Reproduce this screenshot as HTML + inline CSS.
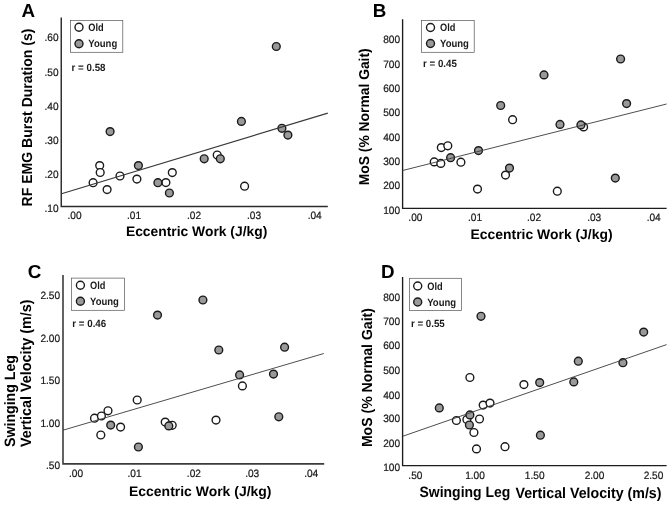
<!DOCTYPE html>
<html lang="en"><head><meta charset="utf-8"><title>Figure</title>
<style>html,body{margin:0;padding:0;background:#fff;overflow:hidden}svg{display:block}text{font-family:'Liberation Sans', sans-serif;text-rendering:geometricPrecision}</style></head><body>
<svg width="670" height="505" viewBox="0 0 670 505">
<rect x="0" y="0" width="670" height="505" fill="#fff"/>
<g>
<text x="21.6" y="16.8" font-size="18.8" font-weight="bold" fill="#000">A</text>
<path d="M61.25 17.6 V206.5 H327.8" fill="none" stroke="#2c2c2c" stroke-width="1.45"/>
<rect x="70.5" y="20.4" width="52.3" height="31.9" fill="#fff" stroke="#555" stroke-width="0.7"/>
<circle cx="79.0" cy="27.2" r="4.0" fill="#fff" stroke="#1a1a1a" stroke-width="1.4"/>
<circle cx="79.0" cy="43.7" r="4.0" fill="#999" stroke="#1a1a1a" stroke-width="1.4"/>
<text x="88.3" y="30.7" font-size="10.6" font-weight="bold" textLength="15.4" lengthAdjust="spacingAndGlyphs" fill="#1a1a1a">Old</text>
<text x="88.3" y="47.2" font-size="10.6" font-weight="bold" textLength="28.9" lengthAdjust="spacingAndGlyphs" fill="#1a1a1a">Young</text>
<text x="71.6" y="71.2" font-size="10.4" font-weight="bold" textLength="33.9" lengthAdjust="spacingAndGlyphs" fill="#1a1a1a">r = 0.58</text>
<text x="58.6" y="41.35" font-size="10.6" text-anchor="end" textLength="14.07" lengthAdjust="spacingAndGlyphs" fill="#161616" stroke="#161616" stroke-width="0.2">.60</text>
<text x="58.6" y="75.75" font-size="10.6" text-anchor="end" textLength="14.07" lengthAdjust="spacingAndGlyphs" fill="#161616" stroke="#161616" stroke-width="0.2">.50</text>
<text x="58.6" y="110.35" font-size="10.6" text-anchor="end" textLength="14.07" lengthAdjust="spacingAndGlyphs" fill="#161616" stroke="#161616" stroke-width="0.2">.40</text>
<text x="58.6" y="144.15" font-size="10.6" text-anchor="end" textLength="14.07" lengthAdjust="spacingAndGlyphs" fill="#161616" stroke="#161616" stroke-width="0.2">.30</text>
<text x="58.6" y="178.15" font-size="10.6" text-anchor="end" textLength="14.07" lengthAdjust="spacingAndGlyphs" fill="#161616" stroke="#161616" stroke-width="0.2">.20</text>
<text x="58.6" y="212.45" font-size="10.6" text-anchor="end" textLength="14.07" lengthAdjust="spacingAndGlyphs" fill="#161616" stroke="#161616" stroke-width="0.2">.10</text>
<text x="74.6" y="219.35" font-size="10.6" text-anchor="middle" textLength="14.07" lengthAdjust="spacingAndGlyphs" fill="#161616" stroke="#161616" stroke-width="0.2">.00</text>
<text x="134" y="219.35" font-size="10.6" text-anchor="middle" textLength="14.07" lengthAdjust="spacingAndGlyphs" fill="#161616" stroke="#161616" stroke-width="0.2">.01</text>
<text x="194.1" y="219.35" font-size="10.6" text-anchor="middle" textLength="14.07" lengthAdjust="spacingAndGlyphs" fill="#161616" stroke="#161616" stroke-width="0.2">.02</text>
<text x="254.1" y="219.35" font-size="10.6" text-anchor="middle" textLength="14.07" lengthAdjust="spacingAndGlyphs" fill="#161616" stroke="#161616" stroke-width="0.2">.03</text>
<text x="314.7" y="219.35" font-size="10.6" text-anchor="middle" textLength="14.07" lengthAdjust="spacingAndGlyphs" fill="#161616" stroke="#161616" stroke-width="0.2">.04</text>
<circle cx="93.1" cy="182.7" r="3.9" fill="#fff" stroke="#1a1a1a" stroke-width="1.4"/>
<circle cx="99.7" cy="165.6" r="3.9" fill="#fff" stroke="#1a1a1a" stroke-width="1.4"/>
<circle cx="100.2" cy="172.5" r="3.9" fill="#fff" stroke="#1a1a1a" stroke-width="1.4"/>
<circle cx="107.1" cy="189.6" r="3.9" fill="#fff" stroke="#1a1a1a" stroke-width="1.4"/>
<circle cx="120.0" cy="176.0" r="3.9" fill="#fff" stroke="#1a1a1a" stroke-width="1.4"/>
<circle cx="136.9" cy="179.1" r="3.9" fill="#fff" stroke="#1a1a1a" stroke-width="1.4"/>
<circle cx="165.9" cy="182.6" r="3.9" fill="#fff" stroke="#1a1a1a" stroke-width="1.4"/>
<circle cx="172.3" cy="172.6" r="3.9" fill="#fff" stroke="#1a1a1a" stroke-width="1.4"/>
<circle cx="217.2" cy="155.0" r="3.9" fill="#fff" stroke="#1a1a1a" stroke-width="1.4"/>
<circle cx="244.6" cy="186.2" r="3.9" fill="#fff" stroke="#1a1a1a" stroke-width="1.4"/>
<circle cx="110.1" cy="131.6" r="3.9" fill="#999" stroke="#1a1a1a" stroke-width="1.4"/>
<circle cx="138.4" cy="165.6" r="3.9" fill="#999" stroke="#1a1a1a" stroke-width="1.4"/>
<circle cx="157.9" cy="182.7" r="3.9" fill="#999" stroke="#1a1a1a" stroke-width="1.4"/>
<circle cx="169.4" cy="193.0" r="3.9" fill="#999" stroke="#1a1a1a" stroke-width="1.4"/>
<circle cx="204.2" cy="158.8" r="3.9" fill="#999" stroke="#1a1a1a" stroke-width="1.4"/>
<circle cx="220.3" cy="158.8" r="3.9" fill="#999" stroke="#1a1a1a" stroke-width="1.4"/>
<circle cx="241.4" cy="121.4" r="3.9" fill="#999" stroke="#1a1a1a" stroke-width="1.4"/>
<circle cx="276.3" cy="46.5" r="3.9" fill="#999" stroke="#1a1a1a" stroke-width="1.4"/>
<circle cx="281.9" cy="128.3" r="3.9" fill="#999" stroke="#1a1a1a" stroke-width="1.4"/>
<circle cx="287.9" cy="135.1" r="3.9" fill="#999" stroke="#1a1a1a" stroke-width="1.4"/>
<line x1="61.5" y1="193.8" x2="327.8" y2="113.1" stroke="#3a3a3a" stroke-width="1.2"/>
<text x="125.9" y="236.4" font-size="13.8" font-weight="bold" textLength="141.4" lengthAdjust="spacingAndGlyphs" fill="#000">Eccentric Work (J/kg)</text>
<text transform="translate(31.6,206.4) rotate(-90)" font-size="14.6" font-weight="bold" textLength="177.8" lengthAdjust="spacingAndGlyphs" fill="#000">RF EMG Burst Duration (s)</text>
</g>
<g>
<text x="372.7" y="16.5" font-size="18.8" font-weight="bold" fill="#000">B</text>
<path d="M402.6 19.3 V208.4 H666.6" fill="none" stroke="#1c1c1c" stroke-width="1.35"/>
<rect x="421.4" y="20.6" width="52.8" height="31.7" fill="#fff" stroke="#555" stroke-width="0.7"/>
<circle cx="430.5" cy="27.5" r="4.0" fill="#fff" stroke="#1a1a1a" stroke-width="1.4"/>
<circle cx="430.5" cy="43.5" r="4.0" fill="#999" stroke="#1a1a1a" stroke-width="1.4"/>
<text x="440" y="31.0" font-size="10.6" font-weight="bold" textLength="15.4" lengthAdjust="spacingAndGlyphs" fill="#1a1a1a">Old</text>
<text x="440" y="47.0" font-size="10.6" font-weight="bold" textLength="28.9" lengthAdjust="spacingAndGlyphs" fill="#1a1a1a">Young</text>
<text x="423" y="67" font-size="10.4" font-weight="bold" textLength="33.9" lengthAdjust="spacingAndGlyphs" fill="#1a1a1a">r = 0.45</text>
<text x="400.1" y="43.15" font-size="10.6" text-anchor="end" textLength="16.89" lengthAdjust="spacingAndGlyphs" fill="#161616" stroke="#161616" stroke-width="0.2">800</text>
<text x="400.1" y="67.75" font-size="10.6" text-anchor="end" textLength="16.89" lengthAdjust="spacingAndGlyphs" fill="#161616" stroke="#161616" stroke-width="0.2">700</text>
<text x="400.1" y="91.95" font-size="10.6" text-anchor="end" textLength="16.89" lengthAdjust="spacingAndGlyphs" fill="#161616" stroke="#161616" stroke-width="0.2">600</text>
<text x="400.1" y="116.35" font-size="10.6" text-anchor="end" textLength="16.89" lengthAdjust="spacingAndGlyphs" fill="#161616" stroke="#161616" stroke-width="0.2">500</text>
<text x="400.1" y="141.35" font-size="10.6" text-anchor="end" textLength="16.89" lengthAdjust="spacingAndGlyphs" fill="#161616" stroke="#161616" stroke-width="0.2">400</text>
<text x="400.1" y="165.15" font-size="10.6" text-anchor="end" textLength="16.89" lengthAdjust="spacingAndGlyphs" fill="#161616" stroke="#161616" stroke-width="0.2">300</text>
<text x="400.1" y="189.15" font-size="10.6" text-anchor="end" textLength="16.89" lengthAdjust="spacingAndGlyphs" fill="#161616" stroke="#161616" stroke-width="0.2">200</text>
<text x="400.1" y="213.65" font-size="10.6" text-anchor="end" textLength="16.89" lengthAdjust="spacingAndGlyphs" fill="#161616" stroke="#161616" stroke-width="0.2">100</text>
<text x="415.4" y="220.75" font-size="10.6" text-anchor="middle" textLength="14.07" lengthAdjust="spacingAndGlyphs" fill="#161616" stroke="#161616" stroke-width="0.2">.00</text>
<text x="475" y="220.75" font-size="10.6" text-anchor="middle" textLength="14.07" lengthAdjust="spacingAndGlyphs" fill="#161616" stroke="#161616" stroke-width="0.2">.01</text>
<text x="534.0" y="220.75" font-size="10.6" text-anchor="middle" textLength="14.07" lengthAdjust="spacingAndGlyphs" fill="#161616" stroke="#161616" stroke-width="0.2">.02</text>
<text x="594.2" y="220.75" font-size="10.6" text-anchor="middle" textLength="14.07" lengthAdjust="spacingAndGlyphs" fill="#161616" stroke="#161616" stroke-width="0.2">.03</text>
<text x="653.7" y="220.75" font-size="10.6" text-anchor="middle" textLength="14.07" lengthAdjust="spacingAndGlyphs" fill="#161616" stroke="#161616" stroke-width="0.2">.04</text>
<circle cx="434.2" cy="161.9" r="3.9" fill="#fff" stroke="#1a1a1a" stroke-width="1.4"/>
<circle cx="440.8" cy="163.4" r="3.9" fill="#fff" stroke="#1a1a1a" stroke-width="1.4"/>
<circle cx="441.3" cy="147.6" r="3.9" fill="#fff" stroke="#1a1a1a" stroke-width="1.4"/>
<circle cx="447.8" cy="145.8" r="3.9" fill="#fff" stroke="#1a1a1a" stroke-width="1.4"/>
<circle cx="460.9" cy="162.2" r="3.9" fill="#fff" stroke="#1a1a1a" stroke-width="1.4"/>
<circle cx="477.5" cy="189.1" r="3.9" fill="#fff" stroke="#1a1a1a" stroke-width="1.4"/>
<circle cx="505.5" cy="175.1" r="3.9" fill="#fff" stroke="#1a1a1a" stroke-width="1.4"/>
<circle cx="512.6" cy="119.7" r="3.9" fill="#fff" stroke="#1a1a1a" stroke-width="1.4"/>
<circle cx="583.6" cy="126.9" r="3.9" fill="#fff" stroke="#1a1a1a" stroke-width="1.4"/>
<circle cx="557.3" cy="191.2" r="3.9" fill="#fff" stroke="#1a1a1a" stroke-width="1.4"/>
<circle cx="450.6" cy="157.7" r="3.9" fill="#999" stroke="#1a1a1a" stroke-width="1.4"/>
<circle cx="478.5" cy="150.6" r="3.9" fill="#999" stroke="#1a1a1a" stroke-width="1.4"/>
<circle cx="500.7" cy="105.5" r="3.9" fill="#999" stroke="#1a1a1a" stroke-width="1.4"/>
<circle cx="509.5" cy="168.1" r="3.9" fill="#999" stroke="#1a1a1a" stroke-width="1.4"/>
<circle cx="544.0" cy="74.9" r="3.9" fill="#999" stroke="#1a1a1a" stroke-width="1.4"/>
<circle cx="560.0" cy="124.4" r="3.9" fill="#999" stroke="#1a1a1a" stroke-width="1.4"/>
<circle cx="580.9" cy="124.9" r="3.9" fill="#999" stroke="#1a1a1a" stroke-width="1.4"/>
<circle cx="620.6" cy="59.0" r="3.9" fill="#999" stroke="#1a1a1a" stroke-width="1.4"/>
<circle cx="626.6" cy="103.6" r="3.9" fill="#999" stroke="#1a1a1a" stroke-width="1.4"/>
<circle cx="615.3" cy="178.1" r="3.9" fill="#999" stroke="#1a1a1a" stroke-width="1.4"/>
<line x1="402.6" y1="170.5" x2="666.6" y2="104.0" stroke="#3a3a3a" stroke-width="0.9"/>
<text x="470.6" y="239" font-size="13.9" font-weight="bold" textLength="142" lengthAdjust="spacingAndGlyphs" fill="#000">Eccentric Work (J/kg)</text>
<text transform="translate(369,185.3) rotate(-90)" font-size="14.3" font-weight="bold" textLength="137" lengthAdjust="spacingAndGlyphs" fill="#000">MoS (% Normal Gait)</text>
</g>
<g>
<text x="27.8" y="277.9" font-size="18.8" font-weight="bold" fill="#000">C</text>
<path d="M63.0 275.1 V463.9 H324.2" fill="none" stroke="#3c3c3c" stroke-width="1.6"/>
<rect x="71.4" y="278.1" width="53.0" height="32.2" fill="#fff" stroke="#555" stroke-width="0.7"/>
<circle cx="80.4" cy="285.2" r="4.0" fill="#fff" stroke="#1a1a1a" stroke-width="1.4"/>
<circle cx="80.4" cy="301.2" r="4.0" fill="#999" stroke="#1a1a1a" stroke-width="1.4"/>
<text x="90" y="288.7" font-size="10.6" font-weight="bold" textLength="15.4" lengthAdjust="spacingAndGlyphs" fill="#1a1a1a">Old</text>
<text x="90" y="304.7" font-size="10.6" font-weight="bold" textLength="28.9" lengthAdjust="spacingAndGlyphs" fill="#1a1a1a">Young</text>
<text x="72.3" y="326.6" font-size="10.4" font-weight="bold" textLength="33.9" lengthAdjust="spacingAndGlyphs" fill="#1a1a1a">r = 0.46</text>
<text x="60.1" y="298.95" font-size="10.6" text-anchor="end" textLength="19.7" lengthAdjust="spacingAndGlyphs" fill="#161616" stroke="#161616" stroke-width="0.2">2.50</text>
<text x="60.1" y="341.95" font-size="10.6" text-anchor="end" textLength="19.7" lengthAdjust="spacingAndGlyphs" fill="#161616" stroke="#161616" stroke-width="0.2">2.00</text>
<text x="60.1" y="384.45" font-size="10.6" text-anchor="end" textLength="19.7" lengthAdjust="spacingAndGlyphs" fill="#161616" stroke="#161616" stroke-width="0.2">1.50</text>
<text x="60.1" y="426.95" font-size="10.6" text-anchor="end" textLength="19.7" lengthAdjust="spacingAndGlyphs" fill="#161616" stroke="#161616" stroke-width="0.2">1.00</text>
<text x="60.1" y="469.35" font-size="10.6" text-anchor="end" textLength="14.07" lengthAdjust="spacingAndGlyphs" fill="#161616" stroke="#161616" stroke-width="0.2">.50</text>
<text x="76.1" y="477.25" font-size="10.6" text-anchor="middle" textLength="14.07" lengthAdjust="spacingAndGlyphs" fill="#161616" stroke="#161616" stroke-width="0.2">.00</text>
<text x="134.6" y="477.25" font-size="10.6" text-anchor="middle" textLength="14.07" lengthAdjust="spacingAndGlyphs" fill="#161616" stroke="#161616" stroke-width="0.2">.01</text>
<text x="193.9" y="477.25" font-size="10.6" text-anchor="middle" textLength="14.07" lengthAdjust="spacingAndGlyphs" fill="#161616" stroke="#161616" stroke-width="0.2">.02</text>
<text x="252.2" y="477.25" font-size="10.6" text-anchor="middle" textLength="14.07" lengthAdjust="spacingAndGlyphs" fill="#161616" stroke="#161616" stroke-width="0.2">.03</text>
<text x="311.2" y="477.25" font-size="10.6" text-anchor="middle" textLength="14.07" lengthAdjust="spacingAndGlyphs" fill="#161616" stroke="#161616" stroke-width="0.2">.04</text>
<circle cx="94.5" cy="418.2" r="3.9" fill="#fff" stroke="#1a1a1a" stroke-width="1.4"/>
<circle cx="101.4" cy="416.0" r="3.9" fill="#fff" stroke="#1a1a1a" stroke-width="1.4"/>
<circle cx="108.0" cy="410.8" r="3.9" fill="#fff" stroke="#1a1a1a" stroke-width="1.4"/>
<circle cx="100.8" cy="435.0" r="3.9" fill="#fff" stroke="#1a1a1a" stroke-width="1.4"/>
<circle cx="120.6" cy="427.1" r="3.9" fill="#fff" stroke="#1a1a1a" stroke-width="1.4"/>
<circle cx="137.2" cy="400.0" r="3.9" fill="#fff" stroke="#1a1a1a" stroke-width="1.4"/>
<circle cx="165.2" cy="422.1" r="3.9" fill="#fff" stroke="#1a1a1a" stroke-width="1.4"/>
<circle cx="172.2" cy="425.3" r="3.9" fill="#fff" stroke="#1a1a1a" stroke-width="1.4"/>
<circle cx="216.0" cy="420.1" r="3.9" fill="#fff" stroke="#1a1a1a" stroke-width="1.4"/>
<circle cx="242.4" cy="385.9" r="3.9" fill="#fff" stroke="#1a1a1a" stroke-width="1.4"/>
<circle cx="110.7" cy="425.1" r="3.9" fill="#999" stroke="#1a1a1a" stroke-width="1.4"/>
<circle cx="138.4" cy="447.0" r="3.9" fill="#999" stroke="#1a1a1a" stroke-width="1.4"/>
<circle cx="168.8" cy="425.9" r="3.9" fill="#999" stroke="#1a1a1a" stroke-width="1.4"/>
<circle cx="202.9" cy="300.0" r="3.9" fill="#999" stroke="#1a1a1a" stroke-width="1.4"/>
<circle cx="218.8" cy="350.0" r="3.9" fill="#999" stroke="#1a1a1a" stroke-width="1.4"/>
<circle cx="239.6" cy="374.9" r="3.9" fill="#999" stroke="#1a1a1a" stroke-width="1.4"/>
<circle cx="273.5" cy="374.1" r="3.9" fill="#999" stroke="#1a1a1a" stroke-width="1.4"/>
<circle cx="284.6" cy="347.2" r="3.9" fill="#999" stroke="#1a1a1a" stroke-width="1.4"/>
<circle cx="278.8" cy="416.8" r="3.9" fill="#999" stroke="#1a1a1a" stroke-width="1.4"/>
<circle cx="157.5" cy="315.1" r="3.9" fill="#999" stroke="#1a1a1a" stroke-width="1.4"/>
<line x1="63.0" y1="430.2" x2="323.8" y2="353.5" stroke="#3a3a3a" stroke-width="0.9"/>
<text x="129.0" y="496.0" font-size="13.9" font-weight="bold" textLength="142.5" lengthAdjust="spacingAndGlyphs" fill="#000">Eccentric Work (J/kg)</text>
<text transform="translate(15.2,447) rotate(-90)" font-size="15" font-weight="bold" textLength="92" lengthAdjust="spacingAndGlyphs" fill="#000">Swinging Leg</text>
<text transform="translate(30.9,447) rotate(-90)" font-size="15" font-weight="bold" textLength="147.5" lengthAdjust="spacingAndGlyphs" fill="#000">Vertical Velocity (m/s)</text>
</g>
<g>
<text x="380.9" y="277.8" font-size="18.8" font-weight="bold" fill="#000">D</text>
<path d="M402.6 276.9 V465.6 H666.6" fill="none" stroke="#1c1c1c" stroke-width="1.35"/>
<rect x="409.4" y="278.3" width="52.0" height="32.2" fill="#fff" stroke="#555" stroke-width="0.7"/>
<circle cx="417.7" cy="286.0" r="4.0" fill="#fff" stroke="#1a1a1a" stroke-width="1.4"/>
<circle cx="417.7" cy="302.0" r="4.0" fill="#999" stroke="#1a1a1a" stroke-width="1.4"/>
<text x="427.2" y="289.5" font-size="10.6" font-weight="bold" textLength="15.4" lengthAdjust="spacingAndGlyphs" fill="#1a1a1a">Old</text>
<text x="427.2" y="305.5" font-size="10.6" font-weight="bold" textLength="28.9" lengthAdjust="spacingAndGlyphs" fill="#1a1a1a">Young</text>
<text x="410.9" y="326.9" font-size="10.4" font-weight="bold" textLength="33.9" lengthAdjust="spacingAndGlyphs" fill="#1a1a1a">r = 0.55</text>
<text x="400.1" y="301.25" font-size="10.6" text-anchor="end" textLength="16.89" lengthAdjust="spacingAndGlyphs" fill="#161616" stroke="#161616" stroke-width="0.2">800</text>
<text x="400.1" y="325.35" font-size="10.6" text-anchor="end" textLength="16.89" lengthAdjust="spacingAndGlyphs" fill="#161616" stroke="#161616" stroke-width="0.2">700</text>
<text x="400.1" y="349.45" font-size="10.6" text-anchor="end" textLength="16.89" lengthAdjust="spacingAndGlyphs" fill="#161616" stroke="#161616" stroke-width="0.2">600</text>
<text x="400.1" y="373.55" font-size="10.6" text-anchor="end" textLength="16.89" lengthAdjust="spacingAndGlyphs" fill="#161616" stroke="#161616" stroke-width="0.2">500</text>
<text x="400.1" y="398.55" font-size="10.6" text-anchor="end" textLength="16.89" lengthAdjust="spacingAndGlyphs" fill="#161616" stroke="#161616" stroke-width="0.2">400</text>
<text x="400.1" y="422.25" font-size="10.6" text-anchor="end" textLength="16.89" lengthAdjust="spacingAndGlyphs" fill="#161616" stroke="#161616" stroke-width="0.2">300</text>
<text x="400.1" y="446.85" font-size="10.6" text-anchor="end" textLength="16.89" lengthAdjust="spacingAndGlyphs" fill="#161616" stroke="#161616" stroke-width="0.2">200</text>
<text x="400.1" y="470.95" font-size="10.6" text-anchor="end" textLength="16.89" lengthAdjust="spacingAndGlyphs" fill="#161616" stroke="#161616" stroke-width="0.2">100</text>
<text x="415.4" y="479.05" font-size="10.6" text-anchor="middle" textLength="14.07" lengthAdjust="spacingAndGlyphs" fill="#161616" stroke="#161616" stroke-width="0.2">.50</text>
<text x="475" y="479.05" font-size="10.6" text-anchor="middle" textLength="19.7" lengthAdjust="spacingAndGlyphs" fill="#161616" stroke="#161616" stroke-width="0.2">1.00</text>
<text x="534.7" y="479.05" font-size="10.6" text-anchor="middle" textLength="19.7" lengthAdjust="spacingAndGlyphs" fill="#161616" stroke="#161616" stroke-width="0.2">1.50</text>
<text x="594.5" y="479.05" font-size="10.6" text-anchor="middle" textLength="19.7" lengthAdjust="spacingAndGlyphs" fill="#161616" stroke="#161616" stroke-width="0.2">2.00</text>
<text x="653.5" y="479.05" font-size="10.6" text-anchor="middle" textLength="19.7" lengthAdjust="spacingAndGlyphs" fill="#161616" stroke="#161616" stroke-width="0.2">2.50</text>
<circle cx="469.9" cy="377.5" r="3.9" fill="#fff" stroke="#1a1a1a" stroke-width="1.4"/>
<circle cx="456.4" cy="420.5" r="3.9" fill="#fff" stroke="#1a1a1a" stroke-width="1.4"/>
<circle cx="466.9" cy="419.5" r="3.9" fill="#fff" stroke="#1a1a1a" stroke-width="1.4"/>
<circle cx="479.5" cy="419.0" r="3.9" fill="#fff" stroke="#1a1a1a" stroke-width="1.4"/>
<circle cx="483.2" cy="405.1" r="3.9" fill="#fff" stroke="#1a1a1a" stroke-width="1.4"/>
<circle cx="490.0" cy="403.1" r="3.9" fill="#fff" stroke="#1a1a1a" stroke-width="1.4"/>
<circle cx="473.9" cy="432.5" r="3.9" fill="#fff" stroke="#1a1a1a" stroke-width="1.4"/>
<circle cx="476.5" cy="448.9" r="3.9" fill="#fff" stroke="#1a1a1a" stroke-width="1.4"/>
<circle cx="505.0" cy="446.7" r="3.9" fill="#fff" stroke="#1a1a1a" stroke-width="1.4"/>
<circle cx="523.9" cy="384.6" r="3.9" fill="#fff" stroke="#1a1a1a" stroke-width="1.4"/>
<circle cx="439.3" cy="407.9" r="3.9" fill="#999" stroke="#1a1a1a" stroke-width="1.4"/>
<circle cx="469.9" cy="414.9" r="3.9" fill="#999" stroke="#1a1a1a" stroke-width="1.4"/>
<circle cx="469.4" cy="425.0" r="3.9" fill="#999" stroke="#1a1a1a" stroke-width="1.4"/>
<circle cx="481.0" cy="316.3" r="3.9" fill="#999" stroke="#1a1a1a" stroke-width="1.4"/>
<circle cx="539.7" cy="382.6" r="3.9" fill="#999" stroke="#1a1a1a" stroke-width="1.4"/>
<circle cx="573.8" cy="381.9" r="3.9" fill="#999" stroke="#1a1a1a" stroke-width="1.4"/>
<circle cx="578.3" cy="361.2" r="3.9" fill="#999" stroke="#1a1a1a" stroke-width="1.4"/>
<circle cx="622.9" cy="362.7" r="3.9" fill="#999" stroke="#1a1a1a" stroke-width="1.4"/>
<circle cx="643.7" cy="332.1" r="3.9" fill="#999" stroke="#1a1a1a" stroke-width="1.4"/>
<circle cx="540.4" cy="435.2" r="3.9" fill="#999" stroke="#1a1a1a" stroke-width="1.4"/>
<line x1="402.6" y1="436.3" x2="666.6" y2="344.6" stroke="#3a3a3a" stroke-width="0.9"/>
<text x="419.5" y="496.7" font-size="15" font-weight="bold" textLength="90.8" lengthAdjust="spacingAndGlyphs" fill="#000">Swinging Leg</text>
<text x="515.5" y="498.0" font-size="15" font-weight="bold" textLength="146" lengthAdjust="spacingAndGlyphs" fill="#000">Vertical Velocity (m/s)</text>
<text transform="translate(372,447.1) rotate(-90)" font-size="14.6" font-weight="bold" textLength="139" lengthAdjust="spacingAndGlyphs" fill="#000">MoS (% Normal Gait)</text>
</g>
</svg></body></html>
